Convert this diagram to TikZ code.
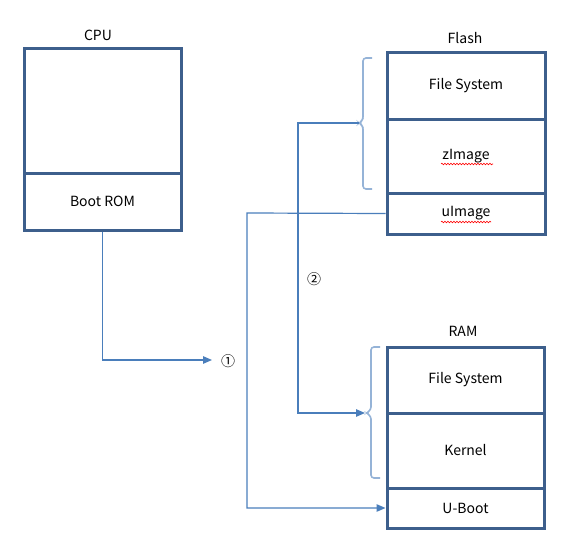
\documentclass[tikz,border=0pt]{standalone}
\usepackage{fontspec}
\setmainfont{Noto Sans CJK KR}
\usetikzlibrary{arrows.meta,decorations.pathmorphing}
\definecolor{boxc}{HTML}{3D5F8C}
\definecolor{linec}{HTML}{4A7EBB}
\definecolor{bracec}{HTML}{95B3D7}
\begin{document}
\begin{tikzpicture}[x=1pt,y=-1pt,
  cell/.style={draw=boxc,line width=3pt,inner sep=0pt,font=\fontsize{14}{16}\selectfont},
  lbl/.style={font=\fontsize{14}{16}\selectfont,inner sep=0pt},
  conn/.style={draw=linec,line width=1.2pt},
  arr/.style={conn,-{Triangle[length=9pt,width=7.5pt]}},
  bracestyle/.style={draw=bracec,line width=1.6pt,rounded corners=3pt},
  squig/.style={draw=red,line width=0.6pt,decorate,decoration={snake,amplitude=0.8pt,segment length=3pt}}]
\useasboundingbox (0,0) rectangle (571,552);
% CPU
\node[cell,minimum width=157pt,minimum height=125pt] (cputop) at (102.5,110.5) {};
\node[cell,minimum width=157pt,minimum height=57pt] (bootrom) at (102.5,201.5) {Boot ROM};
\node[lbl] (cpul) at (98,35) {CPU};
% Flash
\node[cell,minimum width=158pt,minimum height=67pt] (fs1) at (466,85.5) {File System};
\node[cell,minimum width=158pt,minimum height=74pt] (zimg) at (466,156) {zImage};
\node[cell,minimum width=158pt,minimum height=41pt] (uimg) at (466,213.5) {uImage};
\node[lbl] (flashl) at (465,38) {Flash};
% RAM
\node[cell,minimum width=157pt,minimum height=66pt] (fs2) at (465.5,380) {File System};
\node[cell,minimum width=157pt,minimum height=75pt] (kernel) at (465.5,450.5) {Kernel};
\node[cell,minimum width=157pt,minimum height=40pt] (uboot) at (465.5,508) {U-Boot};
\node[lbl] (raml) at (463,331) {RAM};
% spell-check marks
\draw[squig] (441,164) -- (493,164);
\draw[squig] (441,222) -- (491,222);
% braces
\draw[bracestyle] (372,58) -- (363,58) -- (363,120) -- (359,123) -- (363,126) -- (363,189) -- (372,189);
\draw[bracestyle] (380,347) -- (371,347) -- (371,410) -- (366,413) -- (371,416) -- (371,478) -- (380,478);
\coordinate (fbtip) at (359,123);
\coordinate (rbtip) at (365,413);
% numbers
\node[lbl,font=\fontsize{14}{16}\selectfont] (n1) at (228,361) {①};
\node[lbl,font=\fontsize{14}{16}\selectfont] (n2) at (314,279) {②};
\coordinate (c1) at (212,360);
% connectors
\draw[arr] (bootrom.south) |- (c1);
\draw[arr] (fbtip) -- (298,123) |- (rbtip);
\draw[arr] (uimg.west) -- (247,213) |- (uboot.west);
\end{tikzpicture}
\end{document}
